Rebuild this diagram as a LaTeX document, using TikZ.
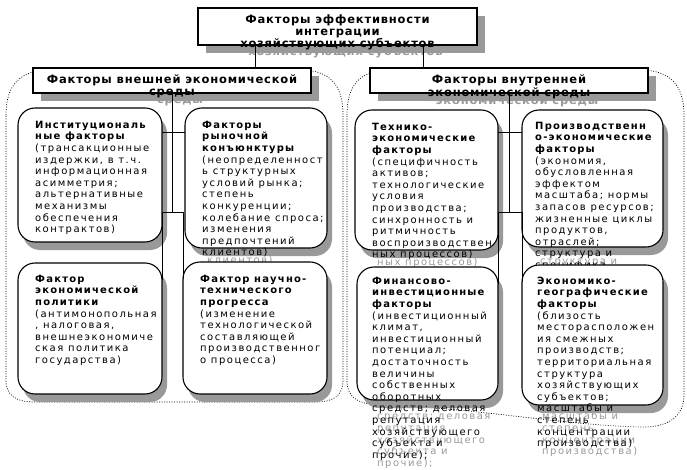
\documentclass[tikz,border=0pt]{standalone}
\usepackage{fontspec}
\setmainfont{DejaVu Sans}
\newfontfamily\bodyfont[LetterSpace=15, BoldFeatures={LetterSpace=12}]{DejaVu Sans}
\newfontfamily\headfont[LetterSpace=7]{DejaVu Sans}
\definecolor{shgray}{gray}{0.6}
\tikzset{
  frame/.style={draw=black, line width=1.3pt, fill=white, rectangle, inner sep=0pt, outer sep=0pt, anchor=north west},
  frameshadow/.style={fill=shgray, rectangle, inner sep=0pt, outer sep=0pt, anchor=north west},
  rbox/.style={draw=black, line width=1.1pt, fill=white, rounded corners=17pt, rectangle, inner sep=0pt, outer sep=0pt, anchor=north west},
  rboxshadow/.style={fill=shgray, rounded corners=17pt, rectangle, inner sep=0pt, outer sep=0pt, anchor=north west},
  btext/.style={font=\bodyfont\fontsize{10}{11.6}\selectfont, align=left, inner sep=0pt, anchor=north west},
  htext/.style={font=\headfont\bfseries\fontsize{11.5}{11.6}\selectfont, align=center, inner sep=0pt, anchor=north},
  zone/.style={line width=0.7pt, dash pattern=on 0.9pt off 1.6pt},
  conn/.style={line width=1pt},
}
% name, x, y, w, h, text x, text top, text
\newcommand\RBox[8]{%
  \node[rboxshadow, minimum width=#4pt, minimum height=#5pt] (#1s) at (#2+5,#3+8) {};
  \node[btext, text=shgray] (#1st) at (#6+5,#7+8) {\strut#8};
  \node[rbox, minimum width=#4pt, minimum height=#5pt] (#1) at (#2,#3) {};
  \node[btext] (#1t) at (#6,#7) {\strut#8};
}
\newcommand\HBox[8]{%
  \node[frameshadow, minimum width=#4pt, minimum height=#5pt] (#1s) at (#2+8,#3+8) {};
  \node[htext, text=shgray] (#1st) at (#6+8,#7+8) {\strut#8};
  \node[frame, minimum width=#4pt, minimum height=#5pt] (#1) at (#2,#3) {};
  \node[htext] (#1t) at (#6,#7) {\strut#8};
}
\begin{document}
\begin{tikzpicture}[x=1pt,y=-1pt]
\useasboundingbox (0,0) rectangle (687,470);

% dotted zones
\draw[zone] (6,115) .. controls (6,85) and (20,70) .. (50,70) -- (300,70)
  .. controls (330,70) and (343,85) .. (343,115) -- (343,380)
  .. controls (343,395) and (335,402) .. (315,402) -- (35,402)
  .. controls (15,402) and (6,395) .. (6,380) -- cycle;
\draw[zone] (347,115) .. controls (347,85) and (360,70) .. (390,70) -- (640,70)
  .. controls (670,70) and (684,85) .. (684,115) -- (684,395)
  .. controls (684,415) and (670,428) .. (640,427)
  .. controls (560,425) and (470,407) .. (390,406)
  .. controls (360,405) and (347,400) .. (347,380) -- cycle;

% headers
\HBox{top}{198}{8}{279}{37}{337.5}{15}{Факторы эффективности\\интеграции\\хозяйствующих субъектов}
\HBox{hL}{33}{68}{278}{25}{172}{75}{Факторы внешней экономической\\среды}
\HBox{hR}{370}{68}{278}{25}{509}{74.5}{Факторы внутренней\\экономической среды}

% factor boxes
\RBox{b1}{18}{108}{144}{134}{35}{120}{\textbf{Институциональ}\\\textbf{ные факторы}\\(трансакционные\\издержки, в т.ч.\\информационная\\асимметрия;\\альтернативные\\механизмы\\обеспечения\\контрактов)}
\RBox{b2}{185}{108}{142}{140}{202}{120}{\textbf{Факторы}\\\textbf{рыночной}\\\textbf{конъюнктуры}\\(неопределенност\\ь структурных\\условий рынка;\\степень\\конкуренции;\\колебание спроса;\\изменения\\предпочтений\\клиентов)}
\RBox{b3}{355}{110}{143}{140}{372}{122}{\textbf{Технико-}\\\textbf{экономические}\\\textbf{факторы}\\(специфичность\\активов;\\технологические\\условия\\производства;\\синхронность и\\ритмичность\\воспроизводствен\\ных процессов)}
\RBox{b4}{522}{110}{141}{137}{535}{121}{\textbf{Производственн}\\\textbf{о-экономические}\\\textbf{факторы}\\(экономия,\\обусловленная\\эффектом\\масштаба; нормы\\запасов ресурсов;\\жизненные циклы\\продуктов,\\отраслей;\\структура и\\специфика}
\RBox{b5}{18}{263}{144}{131}{35}{274}{\textbf{Фактор}\\\textbf{экономической}\\\textbf{политики}\\(антимонопольная\\, налоговая,\\внешнеэкономиче\\ская политика\\государства)}
\RBox{b6}{183}{262}{144}{132}{200}{274}{\textbf{Фактор научно-}\\\textbf{технического}\\\textbf{прогресса}\\(изменение\\технологической\\составляющей\\производственног\\о процесса)}
\RBox{b7}{357}{267}{141}{133}{372}{276}{\textbf{Финансово-}\\\textbf{инвестиционные}\\\textbf{факторы}\\(инвестиционный\\климат,\\инвестиционный\\потенциал;\\достаточность\\величины\\собственных\\оборотных\\средств; деловая\\репутация\\хозяйствующего\\субъекта и\\прочие);}
\RBox{b8}{522}{265}{141}{140}{537}{276}{\textbf{Экономико-}\\\textbf{географические}\\\textbf{факторы}\\(близость\\месторасположен\\ия смежных\\производств;\\территориальная\\структура\\хозяйствующих\\субъектов;\\масштабы и\\степень\\концентрации\\производства)}

% connectors
\coordinate (jT1) at (255,0);
\coordinate (jT2) at (423,0);
\draw[conn] (top.south -| jT1) -- (hL.north -| jT1);
\draw[conn] (top.south -| jT2) -- (hR.north -| jT2);

\coordinate (jL1) at (172,133);
\coordinate (jL2) at (172,213);
\draw[conn] (hL.south) -- (jL2);
\draw[conn] (b1.east |- jL1) -- (b2.west |- jL1);
\draw[conn] ([yshift=-17pt]b5.north east) -- (b5.north east |- jL2) -- (b6.north west |- jL2) -- ([yshift=-17pt]b6.north west);

\coordinate (jR1) at (509,133);
\coordinate (jR2) at (509,213);
\draw[conn] (hR.south) -- (jR2);
\draw[conn] (b3.east |- jR1) -- (b4.west |- jR1);
\draw[conn] ([yshift=-17pt]b7.north east) -- (b7.north east |- jR2) -- (b8.north west |- jR2) -- ([yshift=-17pt]b8.north west);
\end{tikzpicture}
\end{document}
